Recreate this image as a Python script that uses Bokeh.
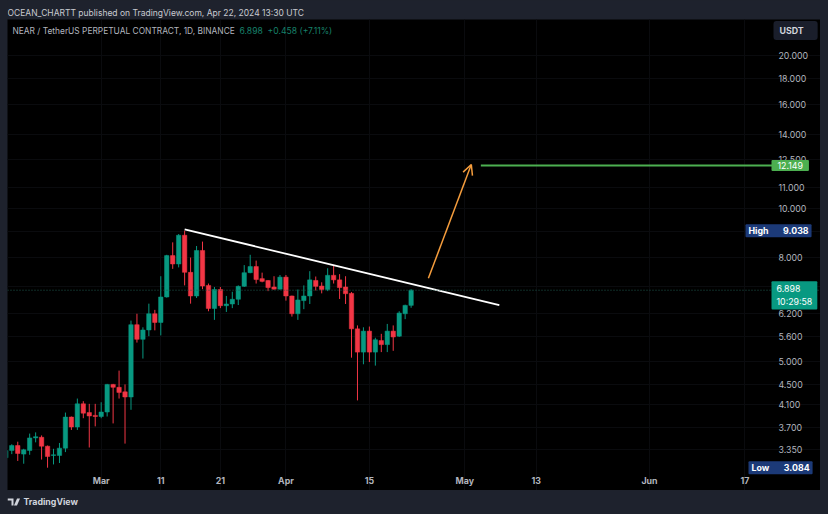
from bokeh.plotting import figure
from bokeh.layouts import column
from bokeh.models import (ColumnDataSource, Range1d, Label, Span, FixedTicker,
                          NumeralTickFormatter, Arrow, OpenHead)
from bokeh.embed import file_html
from bokeh.resources import INLINE

# ---- data -----------------------------------------------------------------
days = list(range(-16, 53))  # days counted from 1 March 2024
opens = [3.225,3.335,3.41,3.28,3.335,3.53,3.54,3.40,3.26,3.26,3.37,3.88,3.71,4.12,3.96,3.91,
         3.89,3.97,4.50,4.44,4.35,4.25,5.90,5.52,5.76,6.20,5.96,6.69,8.07,7.77,8.85,7.48,6.72,
         8.26,7.05,6.35,6.92,6.43,6.48,6.62,7.02,7.47,7.68,7.27,7.21,7.00,6.93,7.32,6.72,6.20,
         6.58,6.72,7.21,7.03,6.92,7.38,7.23,7.00,6.80,5.79,5.21,5.73,5.21,5.49,5.39,5.73,5.60,6.20,6.44]
highs = [3.34,3.43,3.47,3.36,3.60,3.62,3.57,3.41,3.36,3.45,3.96,3.89,4.22,4.17,4.12,4.12,
         4.15,4.51,4.51,4.79,4.50,6.01,6.20,5.83,6.49,6.31,7.35,8.10,8.57,8.90,9.038,8.00,8.43,
         8.60,7.11,7.00,7.00,6.72,6.85,7.05,7.73,8.10,7.89,7.47,7.22,7.35,7.39,7.39,6.73,6.92,
         7.05,7.52,7.34,7.15,7.62,7.73,7.42,7.35,6.84,5.88,5.83,5.85,5.56,5.66,5.92,5.88,6.27,6.46,6.93]
lows = [3.22,3.28,3.18,3.14,3.27,3.46,3.20,3.084,3.13,3.15,3.31,3.66,3.66,3.86,3.38,3.72,
        3.86,3.89,3.77,4.22,3.44,4.01,5.44,5.06,5.60,5.75,5.62,6.67,7.60,7.65,7.05,6.49,6.66,
        6.93,6.27,6.03,6.36,6.25,6.36,6.45,7.00,7.45,7.11,7.15,6.87,6.92,6.92,6.58,6.12,6.03,
        6.33,6.48,6.89,6.80,6.87,7.11,6.63,6.48,5.08,4.185,4.93,4.98,4.90,5.21,5.21,5.24,5.58,6.05,6.37]
closes = [3.335,3.41,3.29,3.345,3.53,3.55,3.40,3.245,3.27,3.37,3.88,3.71,4.12,3.95,3.90,3.89,
          3.97,4.50,4.44,4.34,4.25,5.90,5.52,5.76,6.20,5.96,6.69,8.07,7.77,8.85,7.48,6.72,8.26,
          7.03,6.35,6.92,6.43,6.48,6.62,7.02,7.47,7.68,7.24,7.18,6.98,6.93,7.32,6.72,6.20,6.60,
          6.72,7.23,7.02,6.92,7.38,7.23,6.98,6.79,5.79,5.21,5.73,5.21,5.51,5.39,5.73,5.58,6.22,6.44,6.898]

price_ticks = [20, 18, 16, 14, 12.5, 11, 10, 9, 8, 7, 6.2, 5.6, 5, 4.5, 4.1, 3.7, 3.35]
date_ticks = [0, 10, 20, 31, 45, 61, 73, 92, 108]
date_labels = ["Mar", "11", "21", "Apr", "15", "May", "13", "Jun", "17"]

trend_days = [14.0, 66.8]
trend_prices = [9.09, 6.45]
target_days = [63.7, 112.6]
target_prices = [12.149, 12.149]
arrow_days = [54.9, 62.1]
arrow_prices = [7.28, 12.2]

last_price = 6.898
high_price = 9.038
low_price = 3.084

# ---- colours --------------------------------------------------------------
DARK = "#1e222d"
UP = "#089981"
DOWN = "#f23645"
TXT = "#b2b5be"
GRID = "#0a0b0e"
FONT = "Inter"
NB = "\u00a0"


def strip(height):
    f = figure(width=813, height=height, output_backend="svg", toolbar_location=None,
               x_axis_type=None, y_axis_type=None, x_range=Range1d(0, 813), y_range=Range1d(0, height),
               min_border=0, background_fill_color=DARK, border_fill_color=DARK, outline_line_color=None)
    f.grid.visible = False
    return f


# ---- header ---------------------------------------------------------------
header = strip(19)
header.add_layout(Label(x=0, y=7, text="OCEAN_CHARTT published on TradingView.com, Apr 22, 2024 13:30 UTC",
                        text_color="#c8cad0", text_font=FONT, text_font_size="8.5px",
                        text_baseline="middle"))

# ---- main chart -----------------------------------------------------------
p = figure(width=813, height=471, output_backend="svg", toolbar_location=None,
           y_axis_type="log", y_axis_location="right",
           x_range=Range1d(-15.72, 120.69), y_range=Range1d(2.781, 23.55),
           min_border=0,
           background_fill_color="#000000", border_fill_color="#000000", outline_line_color=None)

colors = [UP if c >= o else DOWN for o, c in zip(opens, closes)]
src = ColumnDataSource(dict(x=days, o=opens, h=highs, l=lows, c=closes, color=colors,
                            top=[max(a, b) for a, b in zip(opens, closes)],
                            bot=[min(a, b) for a, b in zip(opens, closes)]))
p.segment("x", "l", "x", "h", source=src, line_color="color", line_width=1)
p.vbar("x", top="top", bottom="bot", width=0.74, source=src, fill_color="color", line_color="color", line_width=0.5)

p.line(trend_days, trend_prices, line_color="#ffffff", line_width=1.8)
p.line(target_days, target_prices, line_color="#4caf50", line_width=2)
p.add_layout(Arrow(x_start=arrow_days[0], y_start=arrow_prices[0], x_end=arrow_days[1], y_end=arrow_prices[1],
                   line_color="#f59d3d", line_width=1.5,
                   end=OpenHead(size=10, line_color="#f59d3d", line_width=1.5)))
p.add_layout(Span(location=last_price, dimension="width", line_color="#1d5a4d", line_width=1, line_dash="1 2"))

# axes
yax = p.yaxis[0]
yax.fixed_location = 112.63
yax.ticker = FixedTicker(ticks=price_ticks)
yax.formatter = NumeralTickFormatter(format="0.000")
yax.axis_line_color = None
yax.major_tick_line_color = None
yax.minor_tick_line_color = None
yax.major_label_text_color = TXT
yax.major_label_text_font = FONT
yax.major_label_text_font_size = "8.8px"
yax.major_label_standoff = 0

xax = p.xaxis[0]
xax.fixed_location = 3.116
xax.ticker = FixedTicker(ticks=date_ticks)
xax.major_label_overrides = dict(zip(date_ticks, date_labels))
xax.axis_line_color = None
xax.major_tick_line_color = None
xax.minor_tick_line_color = None
xax.major_label_text_color = TXT
xax.major_label_text_font = FONT
xax.major_label_text_font_size = "8.8px"
xax.major_label_text_font_style = "bold"
xax.major_label_standoff = 4

p.xgrid.ticker = FixedTicker(ticks=date_ticks)
p.ygrid.ticker = FixedTicker(ticks=price_ticks)
p.xgrid.grid_line_color = GRID
p.ygrid.grid_line_color = GRID


def tag(x, price, text, fill, color="#ffffff", size="8.8px", style="normal", padding=(6, 2), radius=1):
    p.add_layout(Label(x=x, y=price, x_units="screen", y_units="data", text=text, text_color=color,
                       text_font=FONT, text_font_size=size, text_font_style=style, text_baseline="middle",
                       background_fill_color=fill, padding=padding, border_radius=radius, level="overlay"))


# legend texts
legend_price = 22.4
tag(5, legend_price, "NEAR / TetherUS PERPETUAL CONTRACT, 1D, BINANCE", None, color=TXT, size="8.4px", padding=0)
tag(232, legend_price, "6.898" + NB + NB + "+0.458 (+7.11%)", None, color="#17806a", size="8.6px", padding=0)
tag(766, legend_price, "USDT", "#1a1e2b", color="#d1d4dc", style="bold", padding=(6, 14, 4, 4), radius=3)

tag(764, target_prices[0], "12.149", "#4caf50")
tag(738, high_price, "High" + NB * 7 + "9.038", "#1c3a78", style="bold", padding=(3, 1))
tag(741, low_price, "Low" + NB * 7 + "3.084", "#1c3a78", style="bold", padding=(3, 1))
tag(764, 6.74, "6.898\n10:29:58", UP, padding=(5, 2))

# ---- footer ---------------------------------------------------------------
footer = strip(22)
footer.patch([0, 6, 6, 4, 4, 0], [14, 14, 7, 7, 12, 12], fill_color="#d1d4dc", line_color=None)
footer.patch([9.5, 12.5, 9.5, 6.5], [14, 14, 7, 7], fill_color="#d1d4dc", line_color=None)
footer.add_layout(Label(x=16, y=11, text="TradingView", text_color="#d1d4dc", text_font=FONT,
                        text_font_size="8.8px", text_font_style="bold", text_baseline="middle"))

page = column(header, p, footer, spacing=0, margin=(0, 0, 0, 7))
html = file_html(page, INLINE)
html = html.replace("</head>", "<style>html,body{margin:0;background:#1e222d}</style></head>", 1)
open("out.html", "w").write(html)
